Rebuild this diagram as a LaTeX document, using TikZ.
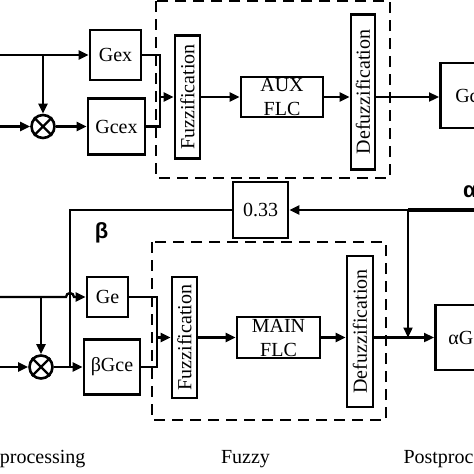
\documentclass[tikz,border=0pt]{standalone}
\usepackage{fontspec}
\setmainfont{Liberation Serif}
\setsansfont{Liberation Sans}
\usetikzlibrary{arrows.meta}
\tikzset{
	blk/.style={draw,line width=2.6pt,inner sep=0pt,font=\fontsize{20}{24}\selectfont,align=center},
	rblk/.style={blk,rotate=90},
	mult/.style={draw,circle,line width=2.6pt,minimum size=23pt,inner sep=0pt},
	wire/.style={line width=2.3pt},
	dashbox/.style={line width=2pt,dash pattern=on 11pt off 7pt},
	lbl/.style={font=\fontsize{20}{24}\selectfont},
	gain/.style={font=\sffamily\bfseries\fontsize{22}{24}\selectfont,inner sep=0pt},
}

\begin{document}
\begin{tikzpicture}[x=1pt,y=-1pt,>={Triangle[length=10pt,width=9pt]}]
	\useasboundingbox (0,0) rectangle (474,474);
	\clip (0,0) rectangle (474,474);
	% upper loop
	\draw[dashbox] (156,1) rectangle (390,178);
	\coordinate (inE1) at (-5,55);
	\coordinate (inC1) at (-5,126.5);
	\coordinate (j1) at (160,97);
	\node[blk,minimum width=51pt,minimum height=50pt] (gex) at (115.5,55) {Gex};
	\node[mult] (m1) at (43,126.5) {};
	\node[blk,minimum width=57pt,minimum height=56pt] (gcex) at (116.5,126.5) {Gcex};
	\node[rblk,minimum width=123pt,minimum height=25pt] (fuz1) at (187.5,97) {Fuzzification};
	\node[blk,minimum width=82pt,minimum height=40pt] (aux) at (282,97) {AUX\\FLC};
	\node[rblk,minimum width=155pt,minimum height=24pt] (def1) at (363,92) {Defuzzification};
	\node[blk,anchor=west,minimum height=65pt,text width=50pt,inner xsep=15pt,align=left] (gc) at (439,95.5) {Gc};
	\draw[line width=2.2pt] (m1.north west) -- (m1.south east) (m1.north east) -- (m1.south west);
	\draw[wire,->] (inE1) -- (gex.west);
	\draw[wire,->] (inE1 -| m1) -- (m1.north);
	\draw[wire,->] (inC1) -- (m1.west);
	\draw[wire,->] (m1.east) -- (gcex.west);
	\draw[wire] (gex.east) -| (j1);
	\draw[wire] (gcex.east) -| (j1);
	\draw[wire,->] (j1) -- (j1 -| fuz1.north);
	\draw[wire,->] (fuz1.south) -- (aux.west);
	\draw[wire,->] (aux.east) -- (aux.east -| def1.north);
	\draw[wire,->] (def1.south |- aux) -- (gc.west |- aux);
	% alpha feedback
	\node[blk,minimum width=55pt,minimum height=56pt] (k) at (260.5,210) {0.33};
	\coordinate (aIn) at (480,210);
	\coordinate (aBr) at (408,210);
	\node[gain,anchor=base west] (alpha) at (463,197) {α};
	\draw[line width=3.2pt] (aIn) -- (aBr);
	\draw[wire,->] (aBr) -- (k.east);
	% lower loop
	\draw[dashbox] (152,242) rectangle (386,420);
	\coordinate (inE2) at (-5,297);
	\coordinate (inC2) at (-5,367);
	\coordinate (hop) at (70,297);
	\coordinate (jb) at (70,367);
	\coordinate (j2) at (157,337.5);
	\coordinate (aJ) at (408,337.5);
	\node[blk,minimum width=41pt,minimum height=40pt] (ge) at (107.5,297) {Ge};
	\node[mult] (m2) at (41,367) {};
	\node[blk,minimum width=56pt,minimum height=55pt] (bgce) at (112,367) {βGce};
	\node[rblk,minimum width=121pt,minimum height=25pt] (fuz2) at (184.5,337.5) {Fuzzification};
	\node[blk,minimum width=83pt,minimum height=41pt] (main) at (278.5,337.5) {MAIN\\FLC};
	\node[rblk,minimum width=151pt,minimum height=26pt] (def2) at (360,331.5) {Defuzzification};
	\node[blk,anchor=west,minimum height=65pt,text width=50pt,inner xsep=13pt,align=left] (agc) at (434,337.5) {αG};
	\node[gain,anchor=base] (beta) at (101.5,238) {β};
	\draw[line width=2.2pt] (m2.north west) -- (m2.south east) (m2.north east) -- (m2.south west);
	\draw[wire,->] (inE2) -- ([xshift=-4pt]hop) arc[start angle=180,end angle=0,radius=4pt] -- (ge.west);
	\draw[wire,->] (inE2 -| m2) -- (m2.north);
	\draw[wire,->] (inC2) -- (m2.west);
	\draw[wire,->] (m2.east) -- (bgce.west);
	\draw[wire] (k.west) -| (jb);
	\draw[wire] (ge.east) -| (j2);
	\draw[wire] (bgce.east) -| (j2);
	\draw[wire,->] (j2) -- (j2 -| fuz2.north);
	\draw[wire,->] (fuz2.south) -- (main.west);
	\draw[wire,->] (main.east) -- (main.east -| def2.north);
	\draw[wire,->] (def2.south |- main) -- (agc.west);
	\draw[wire,->] (aBr) -- (aJ);
	% stage captions
	\node[lbl,anchor=base east] (pre) at (89,463) {Preprocessing};
	\node[lbl,anchor=base] (fz) at (245.5,463) {Fuzzy};
	\node[lbl,anchor=base west] (post) at (400,463) {Postprocessing};
\end{tikzpicture}
\end{document}
